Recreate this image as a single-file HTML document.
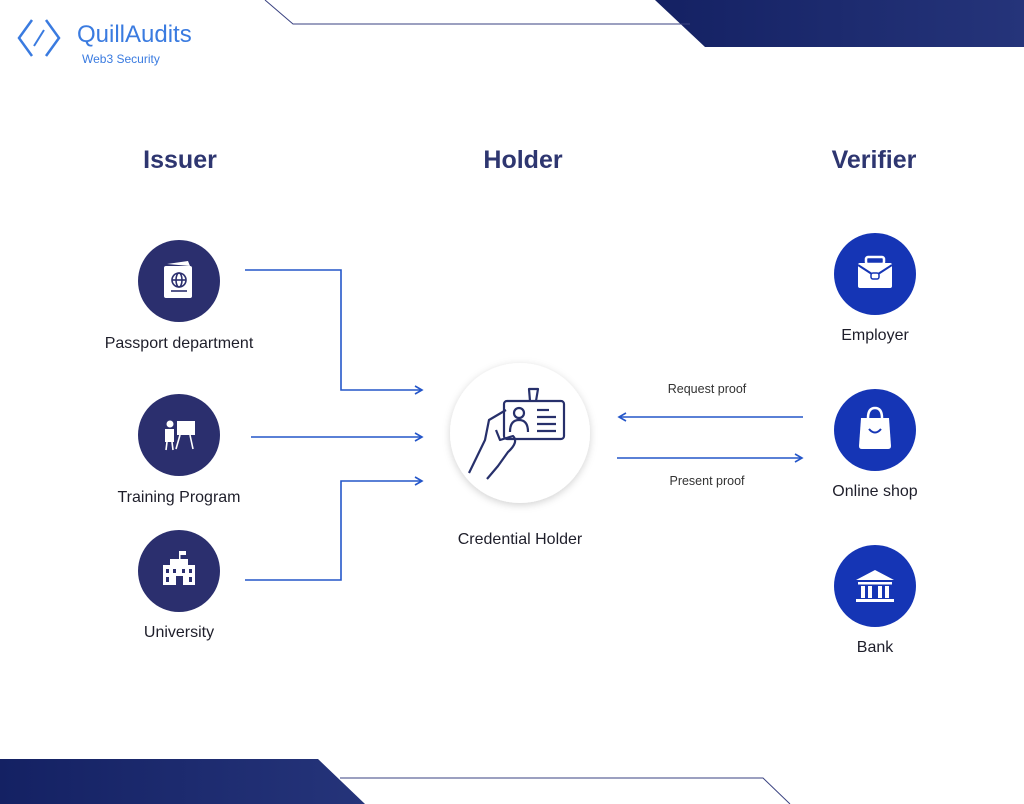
<!DOCTYPE html>
<html><head><style>
body{margin:0;width:1024px;height:804px;background:#fff;overflow:hidden;position:relative;font-family:"Liberation Sans",sans-serif}
.t{position:absolute;font-weight:bold;color:#2e3670;font-size:25px;transform:translateX(-50%)}
.l{position:absolute;color:#1e1e2a;font-size:16px;transform:translateX(-50%);white-space:nowrap}
.s{position:absolute;color:#333;font-size:12.5px;transform:translateX(-50%);white-space:nowrap}
</style></head><body>
<svg width="1024" height="804" style="position:absolute;left:0;top:0">
<defs>
<linearGradient id="g" x1="0" x2="1"><stop offset="0" stop-color="#142163"/><stop offset="1" stop-color="#25347a"/></linearGradient>
<filter id="sh" x="-30%" y="-30%" width="160%" height="160%"><feDropShadow dx="0" dy="2" stdDeviation="4" flood-color="#000" flood-opacity="0.18"/></filter>
<marker id="a" markerWidth="10" markerHeight="10" refX="8" refY="5" orient="auto" markerUnits="userSpaceOnUse"><path d="M1,1 L8,5 L1,9" fill="none" stroke="#2456c9" stroke-width="1.6"/></marker>
</defs>
<polygon points="655,0 1024,0 1024,47 705,47" fill="url(#g)"/>
<polyline points="265,0 293,24 690,24" fill="none" stroke="#3a4280" stroke-width="1"/>
<polygon points="0,759 318,759 365,804 0,804" fill="url(#g)"/>
<polyline points="340,778 763,778 790,804" fill="none" stroke="#3a4280" stroke-width="1"/>
<!-- logo -->
<g fill="none" stroke="#3a7be0" stroke-width="2.5">
<polyline points="32,20 19,38 32,56"/><polyline points="46,20 59,38 46,56"/>
<path d="M34,46 L44,30" stroke-width="2"/>
</g>
<text x="77" y="42" font-family="Liberation Sans" font-size="24" fill="#3a7be0">QuillAudits</text>
<text x="82" y="63" font-family="Liberation Sans" font-size="12" fill="#3a7be0">Web3 Security</text>
<!-- connectors -->
<g fill="none" stroke="#2456c9" stroke-width="1.6">
<polyline points="245,270 341,270 341,390 422,390" marker-end="url(#a)"/>
<polyline points="251,437 422,437" marker-end="url(#a)"/>
<polyline points="245,580 341,580 341,481 422,481" marker-end="url(#a)"/>
<polyline points="803,417 619,417" marker-end="url(#a)"/>
<polyline points="617,458 802,458" marker-end="url(#a)"/>
</g>
<!-- issuer circles -->
<g fill="#2b2f6e"><circle cx="179" cy="281" r="41"/><circle cx="179" cy="435" r="41"/><circle cx="179" cy="571" r="41"/></g>
<g fill="#fff">
<rect x="164" y="266" width="28" height="32" rx="2"/>
<path d="M167,264 L188,261 L190,266 Z"/>
</g>
<g fill="none" stroke="#2b2f6e" stroke-width="1.6"><circle cx="179" cy="280" r="7"/><line x1="172" y1="280" x2="186" y2="280"/><ellipse cx="179" cy="280" rx="3" ry="7"/><line x1="171" y1="291" x2="187" y2="291"/></g>
<g fill="#fff"><circle cx="170" cy="424" r="3.5"/><rect x="165" y="429" width="9" height="13"/><rect x="177" y="421" width="18" height="14"/></g>
<g stroke="#fff" stroke-width="1.6"><line x1="180" y1="435" x2="176" y2="449"/><line x1="190" y1="435" x2="193" y2="449"/><line x1="167" y1="442" x2="166" y2="450"/><line x1="172" y1="442" x2="173" y2="450"/></g>
<g fill="#fff"><rect x="163" y="565" width="32" height="20"/><rect x="170" y="559" width="18" height="7"/><rect x="179" y="551" width="1.5" height="8"/><rect x="180" y="551" width="6" height="4"/></g>
<g fill="#2b2f6e"><rect x="166" y="569" width="3" height="4"/><rect x="173" y="569" width="3" height="4"/><rect x="182" y="569" width="3" height="4"/><rect x="189" y="569" width="3" height="4"/><rect x="166" y="577" width="3" height="5"/><rect x="189" y="577" width="3" height="5"/><rect x="176" y="576" width="7" height="9"/></g>
<!-- verifier -->
<g fill="#1535b5"><circle cx="875" cy="274" r="41"/><circle cx="875" cy="430" r="41"/><circle cx="875" cy="586" r="41"/></g>
<g fill="#fff"><rect x="858" y="263" width="34" height="25" rx="2"/><rect x="866" y="257" width="18" height="7" rx="2" fill="none" stroke="#fff" stroke-width="2.5"/></g>
<path d="M858,265 L875,276 L892,265" fill="none" stroke="#1535b5" stroke-width="2"/>
<rect x="871" y="273" width="8" height="6" rx="2" fill="#fff" stroke="#1535b5" stroke-width="1.5"/>
<path d="M861,418 L889,418 L891,446 Q891,449 888,449 L862,449 Q859,449 859,446 Z" fill="#fff"/>
<path d="M868,418 Q868,408 875,408 Q882,408 882,418" fill="none" stroke="#fff" stroke-width="2.5"/>
<path d="M869,429 Q875,436 881,429" fill="none" stroke="#1535b5" stroke-width="2"/>
<g fill="#fff"><polygon points="875,570 894,580 856,580"/><rect x="858" y="582" width="34" height="2.5"/><rect x="861" y="586" width="4" height="12"/><rect x="868" y="586" width="4" height="12"/><rect x="878" y="586" width="4" height="12"/><rect x="885" y="586" width="4" height="12"/><rect x="856" y="599" width="38" height="3"/></g>
<!-- holder -->
<circle cx="520" cy="433" r="70" fill="#fff" filter="url(#sh)"/>
<g fill="none" stroke="#27306b" stroke-width="2.2" stroke-linejoin="round">
<rect x="504" y="401" width="60" height="38" rx="3"/>
<path d="M530,401 L529,389 L538,389 L536,401"/>
<circle cx="519" cy="413" r="5"/><path d="M510,432 Q510,420 519,420 Q528,420 528,432"/>
<line x1="537" y1="410" x2="549" y2="410"/><line x1="537" y1="417" x2="556" y2="417"/><line x1="537" y1="424" x2="556" y2="424"/><line x1="537" y1="431" x2="556" y2="431"/>
<path d="M506,410 L489,420 L485,440 L469,473"/><path d="M496,430 L500,440 L513,436 Q519,442 508,452 L498,466 L487,479"/>
</g>
</svg>
<div class="t" style="left:180px;top:146px">Issuer</div>
<div class="t" style="left:523px;top:146px">Holder</div>
<div class="t" style="left:874px;top:146px">Verifier</div>
<div class="l" style="left:179px;top:335px">Passport department</div>
<div class="l" style="left:179px;top:489px">Training Program</div>
<div class="l" style="left:179px;top:624px">University</div>
<div class="l" style="left:520px;top:531px">Credential Holder</div>
<div class="l" style="left:875px;top:327px">Employer</div>
<div class="l" style="left:875px;top:483px">Online shop</div>
<div class="l" style="left:875px;top:639px">Bank</div>
<div class="s" style="left:707px;top:382px">Request proof</div>
<div class="s" style="left:707px;top:474px">Present proof</div>
</body></html>
